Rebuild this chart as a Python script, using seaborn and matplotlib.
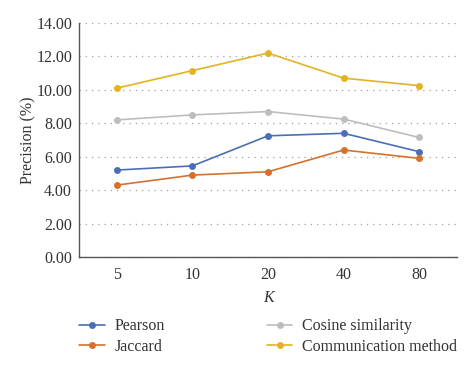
import matplotlib.pyplot as plt
import seaborn as sns
import pandas as pd

# Values
k_values = ["5", "10", "20", "40", "80"]
pearson = [5.2, 5.45, 7.25, 7.4, 6.3]
jaccard = [4.3, 4.9, 5.1, 6.4, 5.9]
cosine = [8.2, 8.5, 8.7, 8.25, 7.15]
communication = [10.1, 11.15, 12.2, 10.7, 10.25]

series_names = ["Pearson", "Jaccard", "Cosine similarity", "Communication method"]
colors = ["#4a6fb5", "#d5712d", "#bdbdbd", "#e3b323"]

df_plot = pd.DataFrame({
    "K": k_values * 4,
    "precision": pearson + jaccard + cosine + communication,
    "method": sum([[name] * len(k_values) for name in series_names], []),
})

sns.set_style("white")
plt.rcParams["font.family"] = ["Liberation Serif", "DejaVu Serif"]

fig = plt.figure(figsize=(4.74, 3.68), dpi=100)
ax = fig.add_axes([0.1667, 0.3016, 0.7975, 0.636])

sns.lineplot(
    data=df_plot,
    x="K",
    y="precision",
    hue="method",
    palette=colors,
    marker="o",
    markersize=5,
    markeredgewidth=0,
    linewidth=1.2,
    sort=False,
    ax=ax,
)

ax.set_xlim(-0.5, 4.5)
ax.set_ylim(0, 14)
ax.set_yticks(range(0, 15, 2))
ax.set_yticklabels([f"{v:.2f}" for v in range(0, 15, 2)])
ax.yaxis.grid(True, linestyle=(0, (1, 4)), color="#a0a0a0", linewidth=0.9)
ax.set_axisbelow(True)
ax.tick_params(axis="both", length=0, labelsize=11.5, colors="#333333", pad=5)
ax.tick_params(axis="x", pad=7)

sns.despine(ax=ax, top=True, right=True)
for side in ["left", "bottom"]:
    ax.spines[side].set_color("#555555")
    ax.spines[side].set_linewidth(1.0)

ax.set_xlabel("K", fontstyle="italic", fontsize=11.5, color="#333333", labelpad=5)
ax.set_ylabel("Precision (%)", fontsize=11.5, color="#333333", labelpad=0)

handles, labels = ax.get_legend_handles_labels()
ax.legend(
    handles, labels,
    loc="upper center",
    bbox_to_anchor=(0.5, -0.2),
    ncol=2,
    frameon=False,
    fontsize=11.5,
    handlelength=1.6,
    handletextpad=0.6,
    columnspacing=6.4,
    labelspacing=0.3,
    labelcolor="#333333",
)

plt.savefig("out.png", dpi=100)
